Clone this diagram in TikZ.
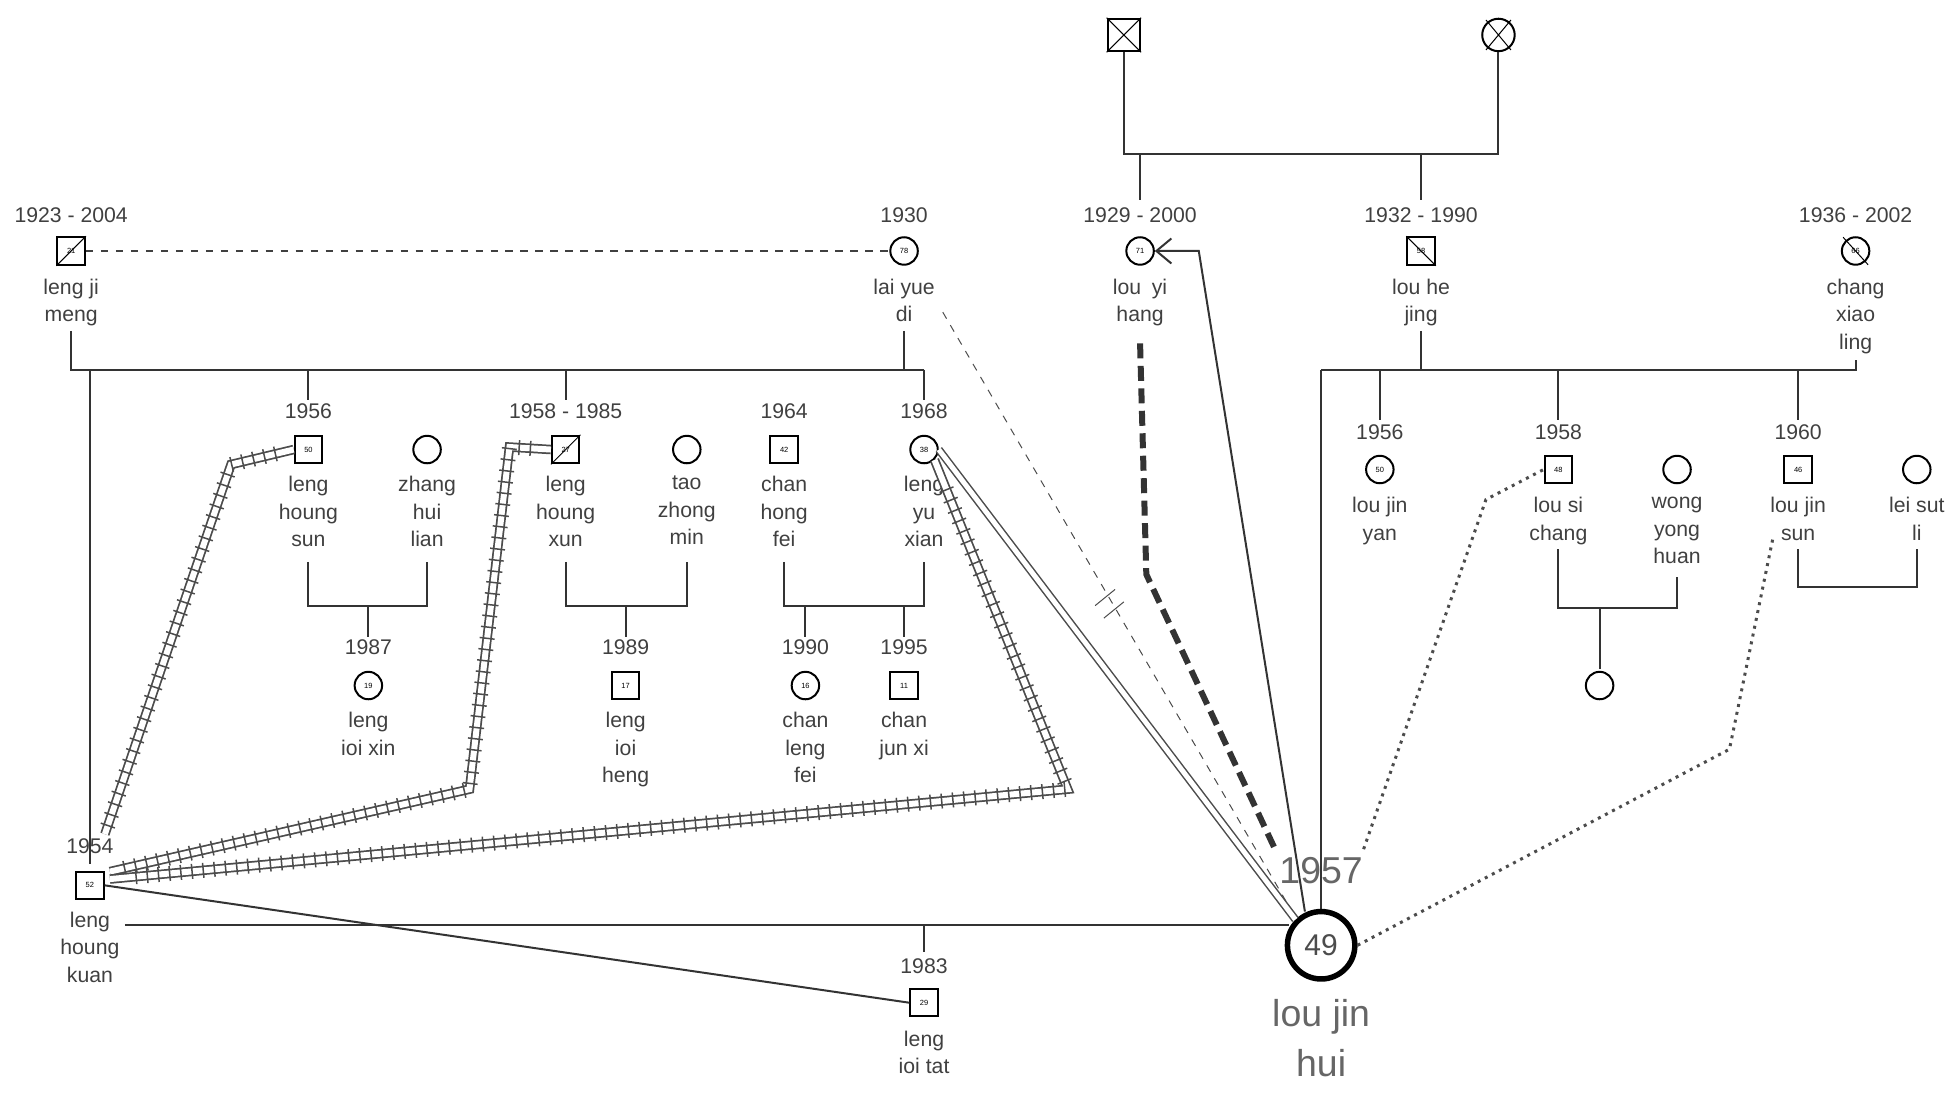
\documentclass[tikz,border=0pt]{standalone}
\usepackage{fontspec}
\setmainfont{Liberation Sans}
\usetikzlibrary{decorations.markings,arrows.meta}
\begin{document}
\begin{tikzpicture}[x=0.5pt,y=-0.5pt,
  m/.style={draw,thick,minimum size=11pt,inner sep=0pt,font=\fontsize{3}{3}\selectfont},
  f/.style={m,circle},
  lbl/.style={font=\fontsize{8.5}{11}\selectfont,align=center,text=black!75,inner sep=1pt},
  ln/.style={thick,black!80},
  rail/.style={draw=black!70,double=white,double distance=2.4pt,line width=0.7pt,
    postaction={decorate,decoration={markings,mark=between positions 0.02 and 0.98 step 4.5pt with {\draw[black!70,line width=0.6pt] (0,-3pt)--(0,3pt);}}}}]
\useasboundingbox (0,0) rectangle (1560,877);
% top grandparents
\node[m,minimum size=13pt] (gf) at (900,28) {};
\draw (gf.north west)--(gf.south east) (gf.north east)--(gf.south west);
\node[f,minimum size=13pt] (gm) at (1200,28) {};
\draw (1190,16)--(1210,40) (1210,16)--(1190,40);
\draw[ln] (gf.south)--(900,123)--(1200,123)--(gm.south);
% generation 2
\node[m] (ljm) at (57,201) {21};
\draw (ljm.north east)--(ljm.south west);
\node[lbl] at (57,172) {1923 - 2004};
\node[lbl,anchor=north] (ljmN) at (57,221) {leng ji\\meng};
\node[f] (lyd) at (724,201) {78};
\node[lbl] at (724,172) {1930};
\node[lbl,anchor=north] (lydN) at (724,221) {lai yue\\di};
\draw[thick,dashed,black!75] (ljm.east)--(lyd.west);
\node[f] (lyh) at (913,201) {71};
\node[lbl] at (913,172) {1929 - 2000};
\node[lbl,anchor=north] (lyhN) at (913,221) {lou\enspace yi\\hang};
\node[m] (lhj) at (1138,201) {58};
\draw (lhj.north west)--(lhj.south east);
\node[lbl] at (1138,172) {1932 - 1990};
\node[lbl,anchor=north] (lhjN) at (1138,221) {lou he\\jing};
\node[f] (cxl) at (1486,201) {66};
\draw (1476,190)--(1496,212);
\node[lbl] at (1486,172) {1936 - 2002};
\node[lbl,anchor=north] (cxlN) at (1486,221) {chang\\xiao\\ling};
\draw[ln] (913,123)--(913,160) (1138,123)--(1138,160);
% left sibship
\draw[ln] (57,265)--(57,296)--(740,296) (724,265)--(724,296);
\draw[ln] (247,296)--(247,320) (453,296)--(453,320) (740,296)--(740,320);
\draw[ln] (72,296)--(72,692);
% generation 3 left
\node[m] (lhs) at (247,360) {50};
\node[lbl] at (247,329) {1956};
\node[lbl,anchor=north] at (247,379) {leng\\houng\\sun};
\node[f] (zhl) at (342,360) {};
\node[lbl,anchor=north] at (342,379) {zhang\\hui\\lian};
\node[m] (lhx) at (453,360) {27};
\draw (lhx.north east)--(lhx.south west);
\node[lbl] at (453,329) {1958 - 1985};
\node[lbl,anchor=north] at (453,379) {leng\\houng\\xun};
\node[f] (tzm) at (550,360) {};
\node[lbl,anchor=north] at (550,379) {tao\\zhong\\min};
\node[m] (chf) at (628,360) {42};
\node[lbl] at (628,329) {1964};
\node[lbl,anchor=north] at (628,379) {chan\\hong\\fei};
\node[f] (lyx) at (740,360) {38};
\node[lbl] at (740,329) {1968};
\node[lbl,anchor=north] at (740,379) {leng\\yu\\xian};
\draw[ln] (247,450)--(247,485)--(342,485)--(342,450) (295,485)--(295,510);
\draw[ln] (453,450)--(453,485)--(550,485)--(550,450) (501,485)--(501,510);
\draw[ln] (628,450)--(628,485)--(740,485)--(740,450) (645,485)--(645,510) (724,485)--(724,510);
\node[f] (lix) at (295,549) {19};
\node[lbl] at (295,518) {1987};
\node[lbl,anchor=north] at (295,568) {leng\\ioi xin};
\node[m] (lih) at (501,549) {17};
\node[lbl] at (501,518) {1989};
\node[lbl,anchor=north] at (501,568) {leng\\ioi\\heng};
\node[f] (clf) at (645,549) {16};
\node[lbl] at (645,518) {1990};
\node[lbl,anchor=north] at (645,568) {chan\\leng\\fei};
\node[m] (cjx) at (724,549) {11};
\node[lbl] at (724,518) {1995};
\node[lbl,anchor=north] at (724,568) {chan\\jun xi};
% right sibship
\draw[ln] (1138,265)--(1138,296) (1058,296)--(1486,296)--(1486,288);
\draw[ln] (1105,296)--(1105,336) (1248,296)--(1248,336) (1440,296)--(1440,336);
\draw[ln] (1058,296)--(1058,730);
\node[f] (ljy) at (1105,376) {50};
\node[lbl] at (1105,346) {1956};
\node[lbl,anchor=north] at (1105,396) {lou jin\\yan};
\node[m] (lsc) at (1248,376) {48};
\node[lbl] at (1248,346) {1958};
\node[lbl,anchor=north] at (1248,396) {lou si\\chang};
\node[f] (wyh) at (1343,376) {};
\node[lbl,anchor=north] at (1343,396) {wong\\yong\\huan};
\node[m] (ljs) at (1440,376) {46};
\node[lbl] at (1440,346) {1960};
\node[lbl,anchor=north] at (1440,396) {lou jin\\sun};
\node[f] (lsl) at (1535,376) {};
\node[lbl,anchor=north] at (1535,396) {lei sut\\li};
\draw[ln] (1248,440)--(1248,487)--(1343,487)--(1343,462) (1281,487)--(1281,536);
\node[f] (unk) at (1281,549) {};
\draw[ln] (1440,440)--(1440,470)--(1535,470)--(1535,440);
% generation 3 main
\node[m] (lhk) at (72,709) {52};
\node[lbl] at (72,678) {1954};
\node[lbl,anchor=north] at (72,728) {leng\\houng\\kuan};
\node[circle,draw,line width=2.2pt,minimum size=27pt,inner sep=0pt,font=\fontsize{12}{12}\selectfont,text=black!70] (ljh) at (1058,757) {49};
\node[font=\fontsize{15}{20}\selectfont,text=black!60] at (1058,697) {1957};
\node[font=\fontsize{15}{20}\selectfont,text=black!60,align=center,anchor=north] at (1058,793) {lou jin\\hui};
\coordinate (mr) at (1032,741);
\draw[ln] (100,741)--(mr) (740,741)--(740,762);
\node[m] (lit) at (740,803) {29};
\node[lbl] at (740,774) {1983};
\node[lbl,anchor=north] at (740,823) {leng\\ioi tat};
\draw[ln] (lhk.east)--(lit.west);
% relations
\draw[rail] (84,668)--(185,372)--(lhs.west);
\draw[rail] (88,698)--(376,632)--(408,358)--(lhx.west);
\draw[rail] (88,704)--(855,632)--(lyx.south east);
\draw[black!70,double=white,double distance=2pt,line width=0.6pt] (ljh.north west)--(lyx.east);
\draw[line width=2.4pt,dash pattern=on 6pt off 3pt,black!80] (913,275)--(918,460)--(1022,682);
\draw[thick,black!80,-{Straight Barb[length=6pt,width=10pt]}] (1045,730)--(960,201)--(lyh.east);
\draw[black!70,dashed] (755,250)--(1030,722);
\draw[black!70] (877,485)--(893,472) (884,495)--(900,482);
\draw[black!70,line width=1.2pt,dotted] (1092,680)--(1190,400)--(lsc.west);
\draw[black!70,line width=1.2pt,dotted] (ljh.east)--(1385,600)--(1420,430);
\end{tikzpicture}
\end{document}
